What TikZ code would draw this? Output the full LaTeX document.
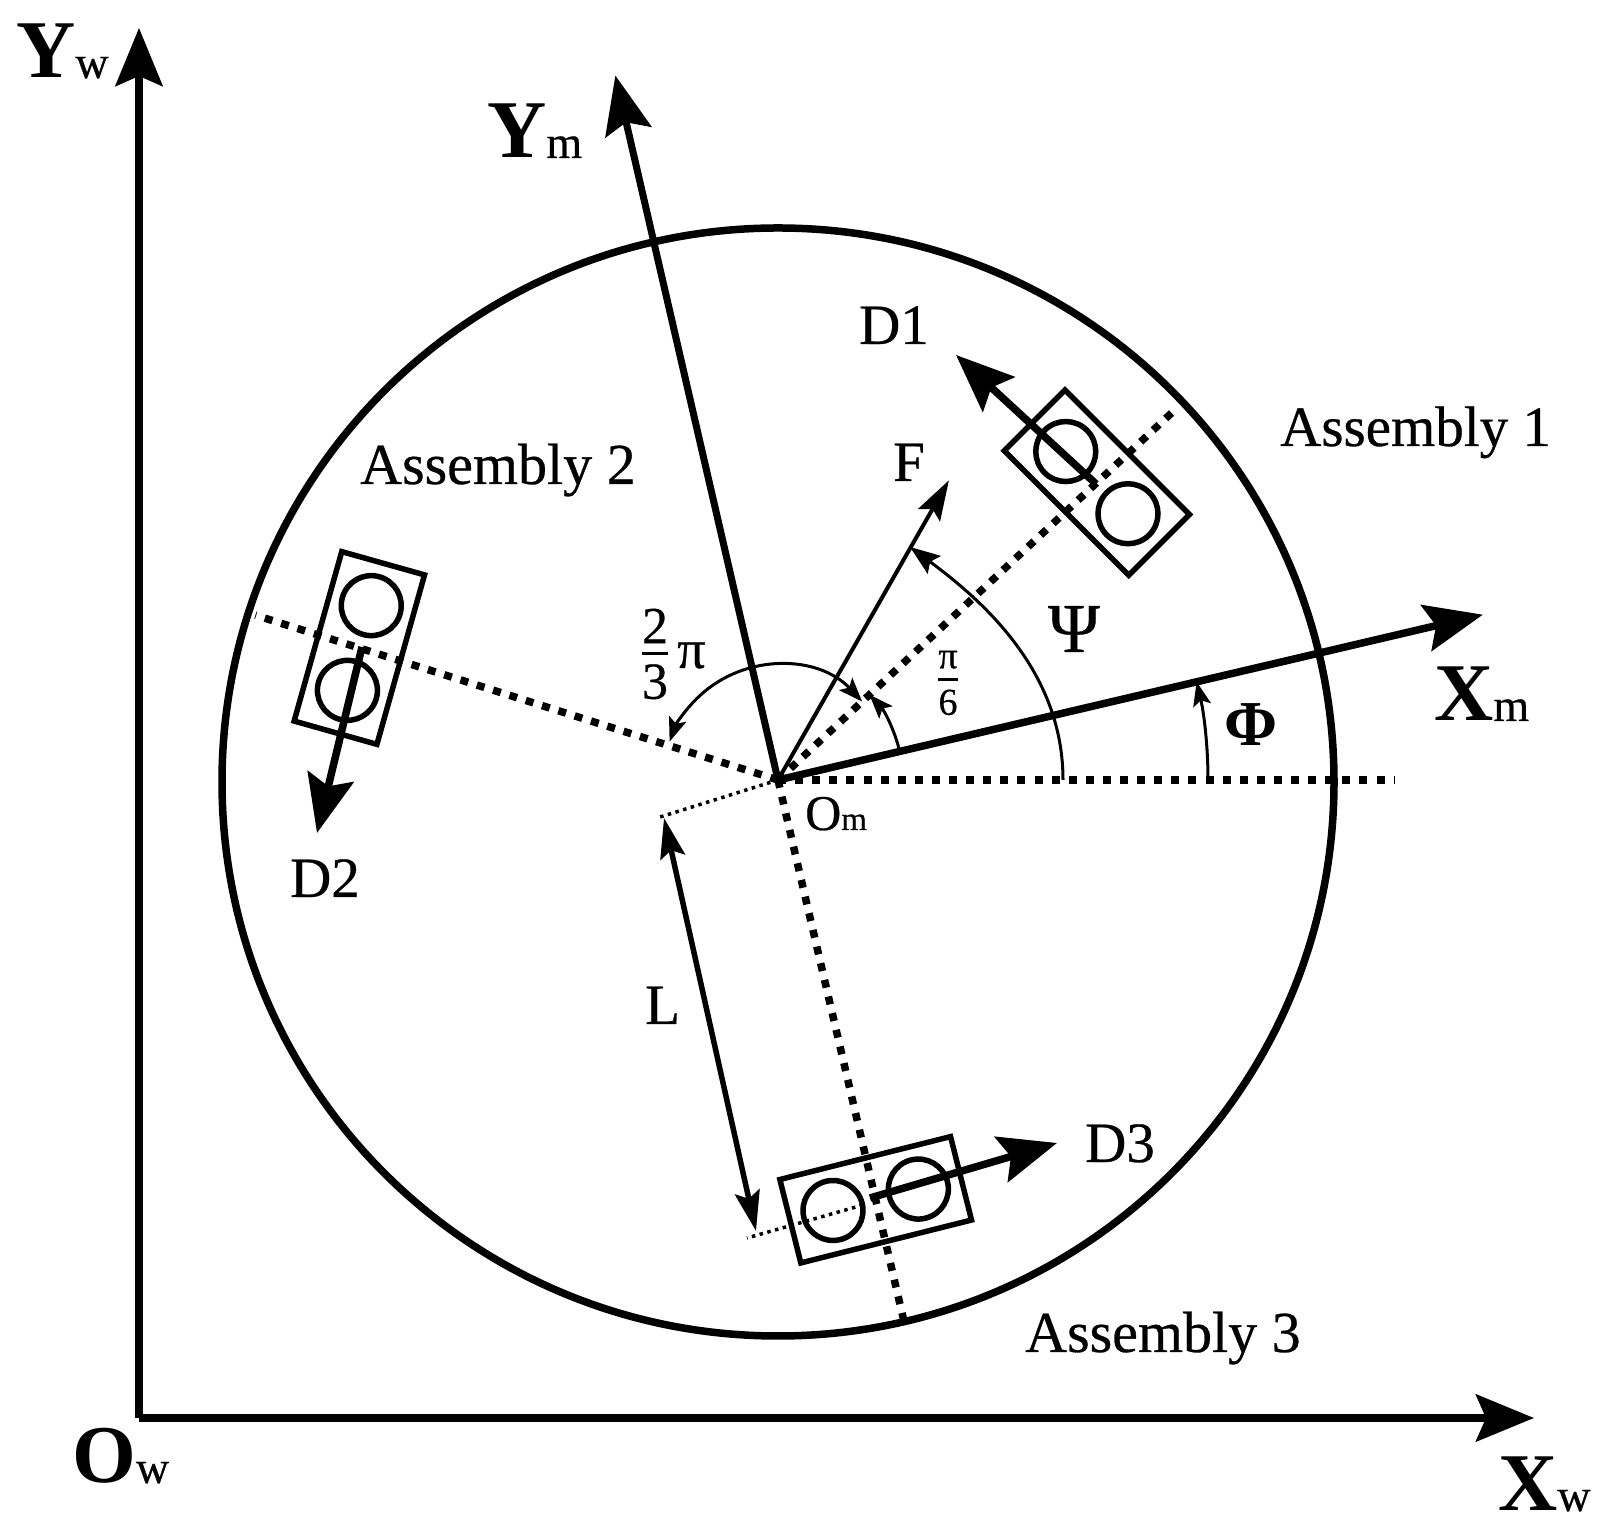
\documentclass[tikz,border=0pt]{standalone}
\usepackage{fontspec}
\setmainfont{Liberation Serif}[FakeBold = 0.5, BoldFeatures = {FakeBold = 0}]
\usetikzlibrary{arrows.meta}

\newcommand{\axistext}[2]{{\fontsize{82}{84}\selectfont\bfseries #1}{\fontsize{46}{48}\selectfont #2}}
\newcommand{\stackedfrac}[2]{$\displaystyle{\mbox{#1}\above 3pt\mbox{#2}}$}

\tikzset{
	label text/.style = {inner sep = 0, anchor = base west, font = \fontsize{57}{59}\selectfont},
	assembly text/.style = {label text, font = \fontsize{58}{60}\selectfont},
	big tip/.tip = {Stealth[length = 58pt, width = 47pt, inset = 10pt]},
	mid tip/.tip = {Stealth[length = 40pt, width = 25pt, inset = 7pt]},
	small tip/.tip = {Stealth[length = 24pt, width = 18pt, inset = 5pt]},
	big arrow/.style = {-{big tip}, line width = 7.5pt},
	thick dots/.style = {line width = 7.5pt, dash pattern = on 8pt off 9.1pt},
	thin dots/.style = {line width = 3.5pt, dash pattern = on 3.5pt off 4.5pt}
}

\begin{document}
\begin{tikzpicture}[x = 1pt, y = 1pt]
	\useasboundingbox (0, 0) rectangle (1598, 1536);
	\coordinate (ow) at (139, 118);
	\coordinate (xwtip) at (1534, 118);
	\coordinate (ywtip) at (139, 1508);
	\coordinate (om) at (778, 756);
	\coordinate (body) at (778, 754);
	\coordinate (xmtip) at ([shift = {(13.2:724)}] om);
	\coordinate (ymtip) at ([shift = {(103:723)}] om);
	\coordinate (ftip) at ([shift = {(60.3:345)}] om);
	\coordinate (horizend) at (1394, 756);

	% world frame and body
	\draw[big arrow] (ow) -- (xwtip);
	\draw[big arrow] (ow) -- (ywtip);
	\draw[line width = 7.5pt] (body) ellipse[x radius = 556, y radius = 554];
	\draw[big arrow] (om) -- (xmtip);
	\draw[big arrow, line width = 7pt] (om) -- (ymtip);
	\draw[thick dots] (om) -- (horizend);
	\draw[-{mid tip}, line width = 4pt] (om) -- (ftip);

	% the three wheel assemblies
	\foreach \n/\a/\b/\r/\h in {1/43/45/545/436, 2/162.5/164.3/548/439, 3/283.1/284.1/553/431} {
		\begin{scope}[shift = {(om)}, rotate = \a]
			\coordinate (rim\n) at (\r, 0);
			\coordinate (hub\n) at (\h, 0);
			\draw[thick dots] (0, 0) -- (rim\n);
		\end{scope}
		\begin{scope}[shift = {(hub\n)}, rotate = \b]
			\draw[line width = 5.5pt] (-43, -88) rectangle (43, 88);
			\draw[line width = 5.5pt] (0, 44) circle[radius = 30];
			\draw[line width = 5.5pt] (0, -44) circle[radius = 30];
		\end{scope}
	}

	% drive directions
	\coordinate (drivestart1) at (1096, 1052);
	\coordinate (drivetip1) at (956, 1181);
	\coordinate (drivestart2) at (362, 889);
	\coordinate (drivetip2) at (317, 703);
	\coordinate (drivestart3) at (870, 338);
	\coordinate (drivetip3) at (1057, 393);
	\foreach \n in {1, 2, 3} {
		\draw[big arrow] (drivestart\n) -- (drivetip\n);
	}

	% length L
	\coordinate (lstart) at (657, 718);
	\coordinate (lend) at (747, 298);
	\coordinate (lhub) at (863, 331);
	\coordinate (lupper) at (664, 718);
	\coordinate (llower) at (756, 305);
	\draw[thin dots] (om) -- (lstart);
	\draw[thin dots] (lhub) -- (lend);
	\draw[{mid tip}-{mid tip}, line width = 5.5pt] (lupper) -- (llower);

	% angles
	\coordinate (psistart) at (1063, 756);
	\coordinate (psiend) at (910, 989);
	\draw[-{Stealth[length = 30pt, width = 22pt, inset = 5pt]}, line width = 3pt] (psistart) .. controls (1063, 860) and (990, 930) .. (psiend);
	\draw[-{small tip}, line width = 3pt] ([shift = {(0:430)}] om) arc[start angle = 0, end angle = 13.2, radius = 430];
	\draw[-{small tip}, line width = 3pt] ([shift = {(13.2:125)}] om) arc[start angle = 13.2, end angle = 43, radius = 125];
	\draw[{small tip}-{small tip}, line width = 3pt] ([shift = {(43:115)}] om) arc[start angle = 43, end angle = 160.5, radius = 115];

	% labels
	\node[label text] (yw) at (16, 1458) {\axistext{Y}{w}};
	\node[label text] (ym) at (487, 1378) {\axistext{Y}{m}};
	\node[label text] (xm) at (1434, 815) {\axistext{X}{m}};
	\node[label text] (owlabel) at (72, 53) {\axistext{O}{w}};
	\node[label text] (xw) at (1498, 25) {\axistext{X}{w}};
	\node[label text] (d1) at (859, 1192) {D1};
	\node[label text] (d2) at (290, 639) {D2};
	\node[label text] (d3) at (1085, 374) {D3};
	\node[label text] (flabel) at (893, 1055) {F};
	\node[label text] (llabel) at (645, 512) {L};
	\node[assembly text, font = \fontsize{57}{59}\selectfont] (as1) at (1280, 1090) {Assembly 1};
	\node[assembly text] (as2) at (360, 1052) {Assembly 2};
	\node[assembly text] (as3) at (1025, 184) {Assembly 3};
	\node[label text, font = \fontsize{50}{52}\selectfont] (omlabel) at (805, 706) {O{\fontsize{33}{35}\selectfont m}};
	\node[label text, font = \fontsize{70}{72}\selectfont] (psi) at (1048, 884) {Ψ};
	\node[label text, font = \fontsize{64}{66}\selectfont\bfseries] (phi) at (1224, 790) {Φ};
	\node[inner sep = 0, font = \fontsize{52}{54}\selectfont] (twothirds) at (655, 882) {\stackedfrac{2}{3}};
	\node[label text, font = \fontsize{56}{58}\selectfont] (pilabel) at (677, 868) {π};
	\node[inner sep = 0, font = \fontsize{38}{40}\selectfont] (pisixth) at (948, 853) {\stackedfrac{π}{6}};
\end{tikzpicture}
\end{document}
